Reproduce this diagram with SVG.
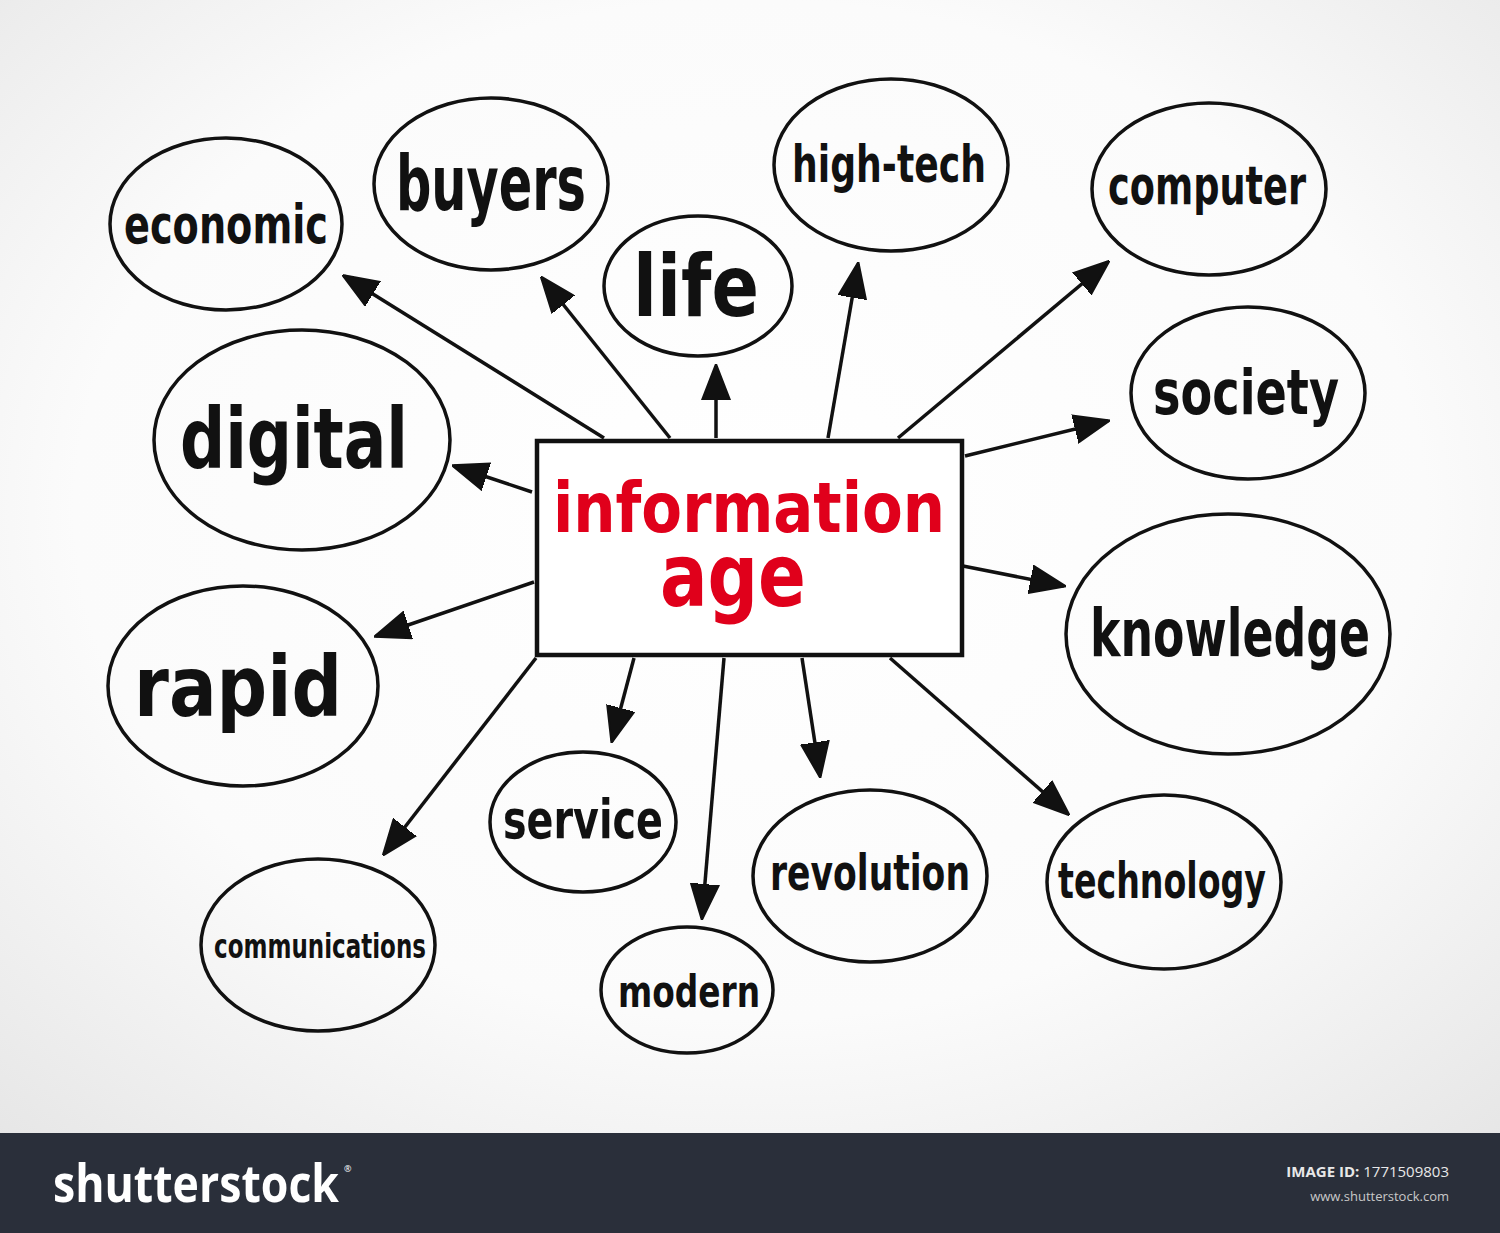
<svg xmlns="http://www.w3.org/2000/svg" width="1500" height="1233" viewBox="0 0 1500 1233">
<defs>
<radialGradient id="bg" cx="0.5" cy="0.45" r="0.75">
<stop offset="0" stop-color="#ffffff"/>
<stop offset="0.6" stop-color="#fbfbfb"/>
<stop offset="1" stop-color="#e6e6e6"/>
</radialGradient>
<marker id="ah" markerUnits="userSpaceOnUse" viewBox="0 0 36 30" refX="34" refY="15" markerWidth="36" markerHeight="30" orient="auto">
<path d="M0,1 L36,15 L0,29 Z" fill="#111" stroke="#111" stroke-width="2" stroke-linejoin="round"/>
</marker>
<style>
.node ellipse{fill:none;stroke:#111;stroke-width:3.5}
.lbl{font-family:"DejaVu Sans Condensed","DejaVu Sans",sans-serif;font-weight:bold;fill:#111;text-anchor:middle}
.conn line{stroke:#111;stroke-width:3.5;marker-end:url(#ah)}
</style>
</defs>
<rect x="0" y="0" width="1500" height="1133" fill="url(#bg)"/>

<g id="connectors" class="conn">
<line x1="604" y1="438" x2="344" y2="276"/>
<line x1="670" y1="438" x2="542" y2="278"/>
<line x1="716" y1="438" x2="716" y2="366"/>
<line x1="828" y1="438" x2="858" y2="264"/>
<line x1="898" y1="438" x2="1108" y2="262"/>
<line x1="965" y1="456" x2="1108" y2="421"/>
<line x1="963" y1="566" x2="1064" y2="586"/>
<line x1="890" y1="658" x2="1068" y2="814"/>
<line x1="802" y1="658" x2="820" y2="776"/>
<line x1="724" y1="658" x2="702" y2="918"/>
<line x1="634" y1="658" x2="612" y2="741"/>
<line x1="536" y1="658" x2="384" y2="854"/>
<line x1="534" y1="582" x2="376" y2="636"/>
<line x1="532" y1="492" x2="454" y2="466"/>
</g>

<g id="center">
<rect x="537" y="441" width="425" height="214" fill="#fff" stroke="#111" stroke-width="4.5"/>
<text font-family="'DejaVu Sans Condensed','DejaVu Sans',sans-serif" font-weight="bold" fill="#e0001b" text-anchor="middle"><tspan x="749" y="532" font-size="70" textLength="392" lengthAdjust="spacingAndGlyphs">information</tspan><tspan x="733" y="606" font-size="88" textLength="146" lengthAdjust="spacingAndGlyphs">age</tspan></text>
</g>

<g id="node-economic" class="node"><ellipse cx="226" cy="224" rx="116" ry="86"/><text class="lbl" x="226" y="243" font-size="54" textLength="204" lengthAdjust="spacingAndGlyphs">economic</text></g>
<g id="node-buyers" class="node"><ellipse cx="491" cy="184" rx="117" ry="86"/><text class="lbl" x="491" y="210" font-size="76" textLength="190" lengthAdjust="spacingAndGlyphs">buyers</text></g>
<g id="node-life" class="node"><ellipse cx="698" cy="286" rx="94" ry="70"/><text class="lbl" x="696" y="316" font-size="86" textLength="126" lengthAdjust="spacingAndGlyphs">life</text></g>
<g id="node-high-tech" class="node"><ellipse cx="891" cy="165" rx="117" ry="86"/><text class="lbl" x="889" y="182" font-size="52" textLength="194" lengthAdjust="spacingAndGlyphs">high-tech</text></g>
<g id="node-computer" class="node"><ellipse cx="1209" cy="189" rx="117" ry="86"/><text class="lbl" x="1207" y="204" font-size="54" textLength="198" lengthAdjust="spacingAndGlyphs">computer</text></g>
<g id="node-society" class="node"><ellipse cx="1248" cy="393" rx="117" ry="86"/><text class="lbl" x="1246" y="414" font-size="62" textLength="186" lengthAdjust="spacingAndGlyphs">society</text></g>
<g id="node-knowledge" class="node"><ellipse cx="1228" cy="634" rx="162" ry="120"/><text class="lbl" x="1230" y="656" font-size="66" textLength="280" lengthAdjust="spacingAndGlyphs">knowledge</text></g>
<g id="node-technology" class="node"><ellipse cx="1164" cy="882" rx="117" ry="87"/><text class="lbl" x="1162" y="898" font-size="50" textLength="208" lengthAdjust="spacingAndGlyphs">technology</text></g>
<g id="node-revolution" class="node"><ellipse cx="870" cy="876" rx="117" ry="86"/><text class="lbl" x="870" y="890" font-size="50" textLength="200" lengthAdjust="spacingAndGlyphs">revolution</text></g>
<g id="node-modern" class="node"><ellipse cx="687" cy="990" rx="86" ry="63"/><text class="lbl" x="689" y="1007" font-size="44" textLength="142" lengthAdjust="spacingAndGlyphs">modern</text></g>
<g id="node-service" class="node"><ellipse cx="583" cy="822" rx="93" ry="70"/><text class="lbl" x="583" y="838" font-size="54" textLength="160" lengthAdjust="spacingAndGlyphs">service</text></g>
<g id="node-communications" class="node"><ellipse cx="318" cy="945" rx="117" ry="86"/><text class="lbl" x="320" y="958" font-size="34" textLength="212" lengthAdjust="spacingAndGlyphs">communications</text></g>
<g id="node-rapid" class="node"><ellipse cx="243" cy="686" rx="135" ry="100"/><text class="lbl" x="238" y="716" font-size="84" textLength="208" lengthAdjust="spacingAndGlyphs">rapid</text></g>
<g id="node-digital" class="node"><ellipse cx="302" cy="440" rx="148" ry="110"/><text class="lbl" x="294" y="468" font-size="84" textLength="228" lengthAdjust="spacingAndGlyphs">digital</text></g>

<g id="footer">
<rect x="0" y="1133" width="1500" height="100" fill="#2a2f3a"/>
<text font-family="'Open Sans','DejaVu Sans',sans-serif" font-weight="bold" fill="#fff"><tspan x="53" y="1202" font-size="52" textLength="286" lengthAdjust="spacingAndGlyphs">shutterstock</tspan><tspan x="344" y="1172" font-size="9" font-weight="normal">®</tspan></text>
<text x="1449" y="1177" font-family="'Open Sans','Liberation Sans',sans-serif" font-size="15" fill="#e8e8e8" text-anchor="end"><tspan font-weight="bold">IMAGE ID:</tspan> 1771509803</text>
<text x="1449" y="1201" font-family="'Open Sans','Liberation Sans',sans-serif" font-size="13" fill="#c8c8c8" text-anchor="end">www.shutterstock.com</text>
</g>
</svg>
